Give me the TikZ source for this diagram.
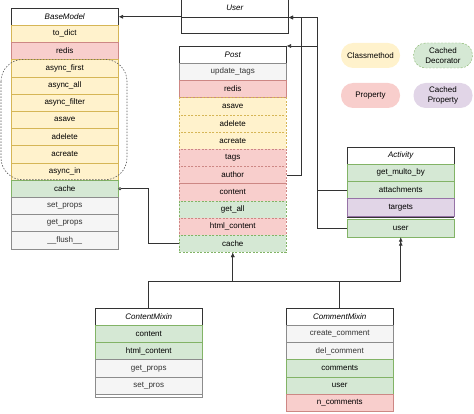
\documentclass[tikz,border=0pt]{standalone}
\usepackage{fontspec}
\setmainfont{Liberation Sans}
\usetikzlibrary{arrows.meta}

\definecolor{yelfill}{HTML}{FFF2CC}
\definecolor{yeldraw}{HTML}{D6B656}
\definecolor{redfill}{HTML}{F8CECC}
\definecolor{reddraw}{HTML}{B85450}
\definecolor{grnfill}{HTML}{D5E8D4}
\definecolor{grndraw}{HTML}{82B366}
\definecolor{purfill}{HTML}{E1D5E7}
\definecolor{purdraw}{HTML}{9673A6}
\definecolor{gryfill}{HTML}{F5F5F5}
\definecolor{grydraw}{HTML}{8C8C8C}
\definecolor{linkcol}{HTML}{333333}

\tikzset{
    row/.style={anchor=north west, minimum width=107pt, minimum height=17.2pt,
        inner sep=0pt, line width=0.5pt, font=\fontsize{8}{9.5}\selectfont},
    header/.style={row, minimum height=17pt, fill=white, draw=linkcol,
        font=\fontsize{8}{9.5}\selectfont\itshape},
    yelrow/.style={fill=yelfill, draw=yeldraw},
    redrow/.style={fill=redfill, draw=reddraw!70},
    grnrow/.style={fill=grnfill, draw=grndraw},
    purrow/.style={fill=purfill, draw=purdraw},
    gryrow/.style={fill=gryfill, draw=grydraw, text=black!80},
    yelrowd/.style={yelrow, dash pattern=on 2pt off 1.5pt},
    redrowd/.style={redrow, dash pattern=on 2pt off 1.5pt},
    grnrowd/.style={grnrow, dash pattern=on 2pt off 1.5pt},
    emptyrow/.style={row, minimum height=3pt, fill=white, draw=grydraw},
    legend/.style={rounded corners=12pt, minimum width=59pt, minimum height=25pt,
        inner sep=0pt, align=center, font=\fontsize{8}{9.5}\selectfont},
    link/.style={draw=linkcol, line width=0.7pt},
    tip/.style={-{Latex[length=4.5pt,width=4pt]}}
}

\begin{document}
\begin{tikzpicture}[x=1pt,y=-1pt]

\useasboundingbox (0,0) rectangle (474,414);

% BaseModel
\node[header] (base) at (11,8) {BaseModel};

\foreach \txt/\sty [count=\i] in {
to\_dict/yelrow, redis/redrow,
async\_first/yelrow, async\_all/yelrow, async\_filter/yelrow,
asave/yelrow, adelete/yelrow, acreate/yelrow, async\_in/yelrow,
cache/grnrow,
set\_props/gryrow, get\_props/gryrow, \_\_flush\_\_/gryrow}
{
    \node[row,\sty] (base\i) at (11,{25+(\i-1)*17.2}) {\txt};
}

\draw[draw=black!65, line width=0.6pt, dash pattern=on 1.5pt off 1.5pt, rounded corners=22pt]
    (1,{25+2*17.2}) rectangle (127,{25+9*17.2});

% User
\node[header, minimum height=18pt] (userhead) at (181,-1) {User};
\node[row, fill=white, draw=linkcol, minimum height=16.5pt] (userbody) at (181,17) {};

% Post
\node[header] (post) at (179,46) {Post};

\foreach \txt/\sty [count=\i] in {
update\_tags/gryrow, redis/redrow,
asave/yelrowd, adelete/yelrowd, acreate/yelrowd,
tags/redrowd, author/redrowd, content/redrowd,
get\_all/grnrowd, html\_content/redrowd, cache/grnrowd}
{
    \node[row,\sty] (post\i) at (179,{63+(\i-1)*17.2}) {\txt};
}

% Activity
\node[header] (act) at (347,147) {Activity};

\foreach \txt/\sty [count=\i] in {
get\_multo\_by/grnrow, attachments/grnrow, targets/purrow}
{
    \node[row,\sty] (act\i) at (347,{164+(\i-1)*17.2}) {\txt};
}

\node[row,grnrow] (act4) at (347,219.4) {user};
\draw[draw=linkcol, line width=1.2pt] (act3.south west) ++(0,1.7) -- ++(107,0);

% ContentMixin
\node[header] (cmix) at (95,308) {ContentMixin};

\foreach \txt/\sty [count=\i] in {
content/grnrow, html\_content/grnrow, get\_props/gryrow, set\_pros/gryrow}
{
    \node[row,\sty] (cmix\i) at (95,{325+(\i-1)*17.2}) {\txt};
}

\node[emptyrow] (cmix5) at (95,{325+4*17.2}) {};

% CommentMixin
\node[header] (comx) at (286,308) {CommentMixin};

\foreach \txt/\sty [count=\i] in {
create\_comment/gryrow, del\_comment/gryrow,
comments/grnrow, user/grnrow, n\_comments/redrow}
{
    \node[row,\sty] (comx\i) at (286,{325+(\i-1)*17.2}) {\txt};
}

% Legend
\node[legend, fill=yelfill] (lgcm) at (370.5,55.5) {Classmethod};
\node[legend, fill=grnfill, draw=grndraw, dash pattern=on 2pt off 1.5pt] (lgcd) at (443,55.5) {Cached\\Decorator};
\node[legend, fill=redfill] (lgpr) at (370.5,95.5) {Property};
\node[legend, fill=purfill] (lgcp) at (443,95.5) {Cached\\Property};

% Links
\draw[link,tip] (userhead.south west |- base.east) -- (base.east);

\draw[link,tip] (post7.east) -- ++(15,0) |- (userhead.south east);
\draw[link,tip] (act4.west) -- ++(-30,0) |- (userhead.south east);
\draw[link,tip] (act2.west) -- ++(-30,0) |- (post.north east);

\draw[link,{Circle[open,length=3pt,width=3pt]}-] (base10.east) -- ++(30,0) |- (post11.west);

\coordinate (bus) at (post11.south |- 0,281);

\draw[link,tip] (cmix.north) |- (bus) -- (post11.south);
\draw[link,tip] (comx.north) |- (bus) -- (post11.south);
\draw[link,tip] (cmix.north) |- (bus) -| (act4.south);
\draw[link,tip,shorten >=4pt] (comx.north) -- ++(0,-27) -| (act4.south);

\end{tikzpicture}
\end{document}
